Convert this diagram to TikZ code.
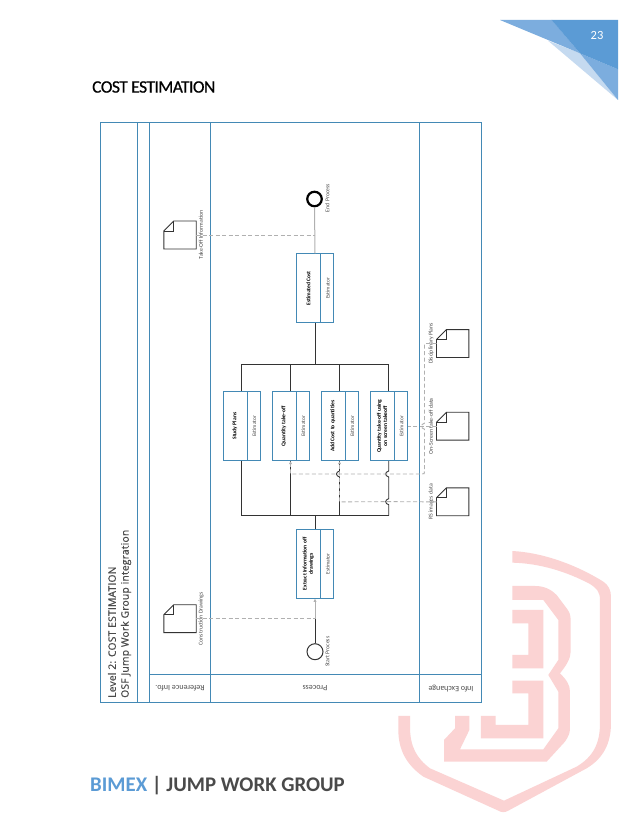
\documentclass[tikz,border=0pt]{standalone}
\usepackage{fontspec}
\setmainfont{Carlito}
\newfontfamily\headfont[FakeBold=0.5,LetterSpace=2]{Open Sans}
\newfontfamily\pagehead[FakeBold=0.6,LetterSpace=-3]{Carlito}
\usetikzlibrary{calc,arrows.meta}
\definecolor{frameblue}{HTML}{4389B5}
\definecolor{pinkmark}{HTML}{FBD3D3}
\definecolor{softgray}{HTML}{B0B0B0}
\definecolor{linedark}{HTML}{333333}
\definecolor{textgray}{HTML}{4A4A4A}
\tikzset{
  x=1pt,y=-1pt,
  frameline/.style={draw=frameblue,line width=1pt},
  taskframe/.style={draw=frameblue,line width=1pt,fill=white,inner sep=0pt,minimum width=37pt,minimum height=69pt,rectangle},
  tasktext/.style={rotate=90,font=\fontsize{5.6}{6.4}\selectfont\bfseries,align=center,text=black,inner sep=0pt},
  roletext/.style={rotate=90,font=\fontsize{5.4}{6}\selectfont,text=textgray,inner sep=0pt},
  doclabel/.style={rotate=90,font=\fontsize{5.8}{6.4}\selectfont,text=textgray,inner sep=0pt},
  lanelabel/.style={rotate=180,font=\fontsize{8}{9}\selectfont,text=textgray,inner sep=0pt},
  docbox/.style={rectangle,inner sep=0pt,minimum width=32pt,minimum height=27.5pt},
  docline/.style={draw=linedark,line width=0.9pt,line join=miter},
  flow/.style={draw=linedark,line width=0.9pt},
  softflow/.style={draw=softgray,line width=1pt},
  assoc/.style={draw=softgray,line width=0.95pt,dash pattern=on 4pt off 2.5pt},
  assocarrow/.style={assoc,-{Triangle[length=3pt,width=2.8pt,fill=softgray]}},
  eventstart/.style={circle,draw=linedark,line width=1pt,fill=white,minimum size=16pt,inner sep=0pt},
  eventend/.style={circle,draw=black,line width=2.2pt,fill=white,minimum size=14.5pt,inner sep=0pt},
}
\newcommand{\taskat}[5]{%
  \node[taskframe] (#1) at (#2,#3) {};
  \draw[frameline] ($(#1.north west)+(24.6,0)$) -- ($(#1.south west)+(24.6,0)$);
  \node[tasktext] (#1-name) at ($(#1.west)+(12.3,0)$) {#4};
  \node[roletext] (#1-role) at ($(#1.east)+(-6.2,0)$) {#5};
}
\newcommand{\docat}[5]{%
  \node[docbox] (#1) at (#2,#3) {};
  \draw[docline] ($(#1.north west)+(10,0)$) -- (#1.north east) -- (#1.south east) -- (#1.south west) -- ($(#1.north west)+(0,10)$) -- cycle;
  \draw[docline] ($(#1.north west)+(10,0)$) -- ($(#1.north west)+(10,10)$) -- ($(#1.north west)+(0,10)$);
  \node[doclabel] (#1-label) at (#4,#3) {#5};
}
\newcommand{\hopv}[1]{-- ($(#1)+(0,-3)$) .. controls ($(#1)+(-4,-2)$) and ($(#1)+(-4,2)$) .. ($(#1)+(0,3)$)}
\begin{document}
\begin{tikzpicture}
\useasboundingbox (0,0) rectangle (638,826);
\fill[fill=white] (0,0) rectangle (638,826);
% corner triangles
\fill[fill={rgb,255:red,197;green,218;blue,240}] (548,40.7) -- (580,53.3) -- (618,100) -- cycle;
\fill[fill={rgb,255:red,124;green,173;blue,222}] (500,20) -- (552,20) -- (580,53.3) -- cycle;
\fill[fill={rgb,255:red,124;green,173;blue,222}] (580,53.3) -- (618,69.3) -- (618,100) -- cycle;
\fill[fill={rgb,255:red,91;green,155;blue,213}] (551.7,20) -- (618,20) -- (618,69.3) -- (580,53.3) -- cycle;
\node[text=white,font=\fontsize{12.5}{13}\selectfont,inner sep=0pt] (pageno) at (597,35.5) {23};
% watermark
\begin{scope}[shift={(380,520)},x=0.3333pt,y=-0.3333pt]
\fill[pinkmark] (397,93) .. controls (490,98) and (590,135) .. (670,185) .. controls (685,195) and (693,210) .. (693,230) -- (693,610) .. controls (693,670) and (670,715) .. (620,745) -- (385,872) .. controls (375,878) and (365,878) .. (355,872) -- (130,770) .. controls (80,735) and (55,690) .. (55,630) -- (55,588) -- (90,588) -- (90,620) .. controls (90,680) and (110,715) .. (150,745) -- (372,842) -- (590,740) .. controls (640,710) and (660,670) .. (660,610) -- (660,240) .. controls (660,215) and (650,205) .. (630,192) .. controls (560,155) and (480,130) .. (397,128) -- cycle;
\fill[pinkmark] (397,198) -- (465,198) .. controls (495,198) and (515,210) .. (530,225) -- (560,265) .. controls (568,275) and (572,285) .. (572,300) -- (572,395) .. controls (572,415) and (560,435) .. (540,460) .. controls (560,480) and (570,495) .. (570,515) -- (570,625) .. controls (570,640) and (565,650) .. (555,665) -- (500,725) -- (192,725) -- (192,660) -- (225,625) -- (225,588) -- (268,588) -- (268,630) -- (240,688) -- (490,688) -- (535,625) -- (535,515) -- (505,465) -- (535,420) -- (535,300) -- (490,240) -- (397,240) -- cycle;
\fill[pinkmark] (397,270) -- (490,270) -- (490,445) -- (397,445) -- (397,405) -- (445,405) -- (445,310) -- (397,310) -- cycle;
\fill[pinkmark] (397,482) -- (490,482) -- (490,655) -- (303,655) -- (303,588) -- (347,588) -- (347,615) -- (445,615) -- (445,520) -- (397,520) -- cycle;
\end{scope}
% page texts
\node[anchor=west,inner sep=0pt,font=\fontsize{17.5}{20}\pagehead,text=black] (pagetitle) at (92,87) {COST ESTIMATION};
\node[anchor=west,inner sep=0pt,font=\fontsize{20.8}{24}\selectfont\bfseries] (footer) at (90,786) {\textcolor[HTML]{5B9BD5}{BIMEX} \textcolor{textgray}{| JUMP WORK GROUP}};
% frame
\draw[frameline] (100,123) rectangle (481,702);
\draw[frameline] (137,123) -- (137,702);
\draw[frameline] (149,123) -- (149,702);
\draw[frameline] (210.7,123) -- (210.7,702);
\draw[frameline] (419.7,123) -- (419.7,702);
\draw[frameline] (149,674) -- (481,674);
\node[rotate=90,anchor=west,inner sep=0pt,font=\fontsize{10.3}{12}\headfont,text=textgray] (level) at (112,698) {Level 2: COST ESTIMATION};
\node[rotate=90,anchor=west,inner sep=0pt,font=\fontsize{10.3}{12}\headfont,text=textgray] (osf) at (126,698) {OSF Jump Work Group integration};
\node[lanelabel] (lane1) at (180,688) {Reference Info.};
\node[lanelabel] (lane2) at (315,688) {Process};
\node[lanelabel] (lane3) at (451,688.5) {Info Exchange};
% junction coordinates
\coordinate (busA) at (315,364.3);
\coordinate (busB) at (315,515.7);
\coordinate (hopA) at (339.5,474);
\coordinate (hopB) at (388.7,474);
\coordinate (hopC) at (388.7,501.7);
\coordinate (hopD) at (424.5,426.2);
% tasks
\taskat{cost}{315}{288.4}{Estimated Cost}{Estimator}
\taskat{tOne}{241.5}{426.2}{Study Plans}{Estimator}
\taskat{tTwo}{290.5}{426.2}{Quantity take-off}{Estimator}
\taskat{tThree}{339.5}{426.2}{Add Cost to quantities}{Estimator}
\taskat{tFour}{388.7}{426.2}{Quantity take-off using\\on screen takeoff}{Estimator}
\taskat{extract}{315}{563.8}{Extract Information off\\drawings}{Estimator}
% events
\node[eventstart] (start) at (315,651.7) {};
\node[eventend] (finish) at (314.5,199) {};
\node[doclabel] (startlabel) at (327.5,651.7) {Start Process};
\node[doclabel] (endlabel) at (327.5,198) {End Process};
% documents
\docat{dTake}{180}{235}{201}{Take-Off Information}
\docat{dDraw}{180}{618.7}{201}{Construction Drawings}
\docat{dDisc}{452.7}{343.5}{431}{Disciplinary Plans}
\docat{dScreen}{452.7}{426.2}{431}{On-Screen take-off data}
\docat{dRS}{452.7}{501.8}{431}{RS images data}
% process flows
\draw[softflow] (cost.north) -- (finish.south);
\draw[flow] (cost.south) -- (busA);
\draw[flow] (tOne.north) -- (tOne.north |- busA) -- (tFour.north |- busA) -- (tFour.north);
\draw[flow] (tTwo.north) -- (tTwo.north |- busA);
\draw[flow] (tThree.north) -- (tThree.north |- busA);
\draw[flow] (extract.north) -- (busB);
\draw[flow] (tOne.south) -- (tOne.south |- busB) -- (tFour.south |- busB);
\draw[flow] (tTwo.south) -- (tTwo.south |- busB);
\draw[flow] (tThree.south) \hopv{hopA} -- (tThree.south |- busB);
\draw[flow] (tFour.south) \hopv{hopB} \hopv{hopC} -- (tFour.south |- busB);
\draw[flow] (start.north) -- (315,619);
\draw[softflow,-{Triangle[length=3pt,width=2.8pt,fill=softgray]}] (315,619) -- (extract.south);
% information flows
\draw[assoc] (dTake.east) -- (315,235);
\draw[assoc] (dDraw.east) -- (315,618.7);
\draw[assocarrow] (dRS.west) -- ($(hopC)+(0,0)$) -- (tThree.south |- dRS.west) -- (tThree.south);
\draw[assoc] (dScreen.west) -- (tFour.east |- dScreen.west);
\draw[assocarrow] (dDisc.west) -- (424.5,343.5) \hopv{hopD} -- (424.5,471) .. controls (424.5,474) .. (421.5,474) -- (tTwo.south |- hopA) -- (tTwo.south);
\end{tikzpicture}
\end{document}
